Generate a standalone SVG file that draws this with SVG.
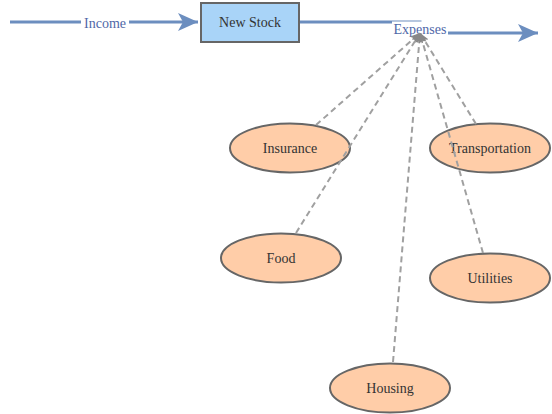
<svg xmlns="http://www.w3.org/2000/svg" width="552" height="414" viewBox="0 0 552 414">
<style>
.flow{fill:none;stroke:#6c8ebf;stroke-width:3}
.dep{fill:none;stroke:#a0a0a0;stroke-width:2;stroke-dasharray:6,4}
.node ellipse{fill:#ffcda8;stroke:#666;stroke-width:2}
.lbl{font-family:'Liberation Serif','DejaVu Serif',serif;font-size:14px;fill:#333;text-anchor:middle}
.flbl{font-family:'Liberation Serif','DejaVu Serif',serif;font-size:14px;fill:#5068a8;text-anchor:middle}
</style>
<defs>
<marker id="fa" markerUnits="userSpaceOnUse" markerWidth="22" markerHeight="22" refX="20" refY="10" orient="auto">
<path d="M0,1 L20,10 L0,19 L5,10 Z" fill="#6c8ebf"/>
</marker>
<marker id="da" markerUnits="userSpaceOnUse" markerWidth="12" markerHeight="12" refX="10" refY="5" orient="auto">
<path d="M0,1 L10,5 L0,9 L2,5 Z" fill="#888"/>
</marker>
</defs>
<rect width="552" height="414" fill="#fff"/>
<g id="flows">
<path class="flow" d="M10,22 H198" marker-end="url(#fa)"/>
<rect x="81" y="15" width="48" height="15" fill="#fff"/>
<text class="flbl" x="105" y="28">Income</text>
<path class="flow" d="M300,22 H420 V33 H538" marker-end="url(#fa)"/>
<rect x="392" y="21.5" width="56" height="15" fill="#fff"/>
<text class="flbl" x="420" y="34">Expenses</text>
</g>
<g id="stock">
<rect x="201" y="3" width="98" height="39" fill="#a9d4f8" stroke="#666" stroke-width="2"/>
<text class="lbl" x="250" y="27">New Stock</text>
</g>
<g id="insurance" class="node"><ellipse cx="290" cy="148" rx="60" ry="24.5"/><text class="lbl" x="290" y="153">Insurance</text></g>
<g id="transportation" class="node"><ellipse cx="490" cy="148" rx="60" ry="24.5"/><text class="lbl" x="490" y="153">Transportation</text></g>
<g id="food" class="node"><ellipse cx="281" cy="258" rx="60" ry="24.5"/><text class="lbl" x="281" y="263">Food</text></g>
<g id="utilities" class="node"><ellipse cx="490" cy="278" rx="60" ry="24.5"/><text class="lbl" x="490" y="283">Utilities</text></g>
<g id="housing" class="node"><ellipse cx="390" cy="388" rx="60" ry="24.5"/><text class="lbl" x="390" y="393">Housing</text></g>
<g id="connectors">
<path class="dep" d="M316,125 L420,33" marker-end="url(#da)"/>
<path class="dep" d="M296,233 L420,33" marker-end="url(#da)"/>
<path class="dep" d="M393,362 L420,33" marker-end="url(#da)"/>
<path class="dep" d="M476,124 L420,33" marker-end="url(#da)"/>
<path class="dep" d="M483,253 L420,33" marker-end="url(#da)"/>
</g>
</svg>
